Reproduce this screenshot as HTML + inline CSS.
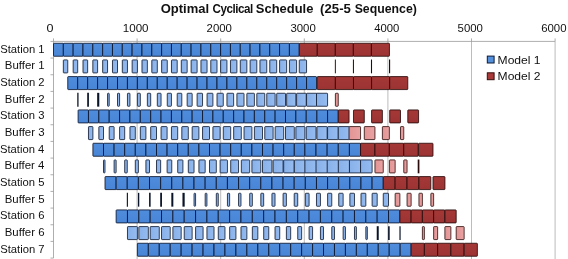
<!DOCTYPE html><html><head><meta charset="utf-8"><title>Optimal Cyclical Schedule</title>
<style>html,body{margin:0;padding:0;background:#fff}svg{display:block}text{font-family:"Liberation Sans",sans-serif;fill:#111}</style></head><body>
<svg width="568" height="259" viewBox="0 0 568 259">
<defs>
<linearGradient id="gb" x1="0" y1="0" x2="0" y2="1"><stop offset="0" stop-color="#4f8cdc"/><stop offset="1" stop-color="#4885d6"/></linearGradient>
<linearGradient id="gl" x1="0" y1="0" x2="1" y2="0"><stop offset="0" stop-color="#88b1ea"/><stop offset="1" stop-color="#96bcf0"/></linearGradient>
<linearGradient id="gr" x1="0" y1="0" x2="0" y2="1"><stop offset="0" stop-color="#a43837"/><stop offset="1" stop-color="#9c3333"/></linearGradient>
<linearGradient id="gp" x1="0" y1="0" x2="1" y2="0"><stop offset="0" stop-color="#e39494"/><stop offset="1" stop-color="#e9a2a2"/></linearGradient>
</defs>
<rect width="568" height="259" fill="#fff"/>
<line x1="137.10" y1="41.42" x2="137.10" y2="259" stroke="#b4b4b4" stroke-width="0.9"/>
<line x1="137.10" y1="38.42" x2="137.10" y2="41.42" stroke="#999" stroke-width="0.8"/>
<line x1="220.70" y1="41.42" x2="220.70" y2="259" stroke="#b4b4b4" stroke-width="0.9"/>
<line x1="220.70" y1="38.42" x2="220.70" y2="41.42" stroke="#999" stroke-width="0.8"/>
<line x1="304.30" y1="41.42" x2="304.30" y2="259" stroke="#b4b4b4" stroke-width="0.9"/>
<line x1="304.30" y1="38.42" x2="304.30" y2="41.42" stroke="#999" stroke-width="0.8"/>
<line x1="387.90" y1="41.42" x2="387.90" y2="259" stroke="#b4b4b4" stroke-width="0.9"/>
<line x1="387.90" y1="38.42" x2="387.90" y2="41.42" stroke="#999" stroke-width="0.8"/>
<line x1="471.50" y1="41.42" x2="471.50" y2="259" stroke="#b4b4b4" stroke-width="0.9"/>
<line x1="471.50" y1="38.42" x2="471.50" y2="41.42" stroke="#999" stroke-width="0.8"/>
<line x1="555.10" y1="41.42" x2="555.10" y2="259" stroke="#b4b4b4" stroke-width="0.9"/>
<line x1="555.10" y1="38.42" x2="555.10" y2="41.42" stroke="#999" stroke-width="0.8"/>
<line x1="53.50" y1="41.42" x2="555.10" y2="41.42" stroke="#999" stroke-width="0.8"/>
<line x1="53.50" y1="38.42" x2="53.50" y2="258.08" stroke="#999" stroke-width="0.8"/>
<line x1="50.50" y1="41.42" x2="53.50" y2="41.42" stroke="#999" stroke-width="0.8"/>
<line x1="50.50" y1="58.08" x2="53.50" y2="58.08" stroke="#999" stroke-width="0.8"/>
<line x1="50.50" y1="74.75" x2="53.50" y2="74.75" stroke="#999" stroke-width="0.8"/>
<line x1="50.50" y1="91.42" x2="53.50" y2="91.42" stroke="#999" stroke-width="0.8"/>
<line x1="50.50" y1="108.08" x2="53.50" y2="108.08" stroke="#999" stroke-width="0.8"/>
<line x1="50.50" y1="124.75" x2="53.50" y2="124.75" stroke="#999" stroke-width="0.8"/>
<line x1="50.50" y1="141.42" x2="53.50" y2="141.42" stroke="#999" stroke-width="0.8"/>
<line x1="50.50" y1="158.08" x2="53.50" y2="158.08" stroke="#999" stroke-width="0.8"/>
<line x1="50.50" y1="174.75" x2="53.50" y2="174.75" stroke="#999" stroke-width="0.8"/>
<line x1="50.50" y1="191.42" x2="53.50" y2="191.42" stroke="#999" stroke-width="0.8"/>
<line x1="50.50" y1="208.08" x2="53.50" y2="208.08" stroke="#999" stroke-width="0.8"/>
<line x1="50.50" y1="224.75" x2="53.50" y2="224.75" stroke="#999" stroke-width="0.8"/>
<line x1="50.50" y1="241.42" x2="53.50" y2="241.42" stroke="#999" stroke-width="0.8"/>
<line x1="50.50" y1="258.08" x2="53.50" y2="258.08" stroke="#999" stroke-width="0.8"/>
<rect x="53.50" y="43.25" width="9.83" height="13.00" rx="0.6" fill="url(#gb)" stroke="#060e22" stroke-width="0.8"/>
<rect x="63.33" y="43.25" width="9.83" height="13.00" rx="0.6" fill="url(#gb)" stroke="#060e22" stroke-width="0.8"/>
<rect x="73.16" y="43.25" width="9.83" height="13.00" rx="0.6" fill="url(#gb)" stroke="#060e22" stroke-width="0.8"/>
<rect x="82.99" y="43.25" width="9.83" height="13.00" rx="0.6" fill="url(#gb)" stroke="#060e22" stroke-width="0.8"/>
<rect x="92.82" y="43.25" width="9.83" height="13.00" rx="0.6" fill="url(#gb)" stroke="#060e22" stroke-width="0.8"/>
<rect x="102.65" y="43.25" width="9.83" height="13.00" rx="0.6" fill="url(#gb)" stroke="#060e22" stroke-width="0.8"/>
<rect x="112.48" y="43.25" width="9.83" height="13.00" rx="0.6" fill="url(#gb)" stroke="#060e22" stroke-width="0.8"/>
<rect x="122.31" y="43.25" width="9.83" height="13.00" rx="0.6" fill="url(#gb)" stroke="#060e22" stroke-width="0.8"/>
<rect x="132.14" y="43.25" width="9.83" height="13.00" rx="0.6" fill="url(#gb)" stroke="#060e22" stroke-width="0.8"/>
<rect x="141.97" y="43.25" width="9.83" height="13.00" rx="0.6" fill="url(#gb)" stroke="#060e22" stroke-width="0.8"/>
<rect x="151.80" y="43.25" width="9.83" height="13.00" rx="0.6" fill="url(#gb)" stroke="#060e22" stroke-width="0.8"/>
<rect x="161.63" y="43.25" width="9.83" height="13.00" rx="0.6" fill="url(#gb)" stroke="#060e22" stroke-width="0.8"/>
<rect x="171.46" y="43.25" width="9.83" height="13.00" rx="0.6" fill="url(#gb)" stroke="#060e22" stroke-width="0.8"/>
<rect x="181.29" y="43.25" width="9.83" height="13.00" rx="0.6" fill="url(#gb)" stroke="#060e22" stroke-width="0.8"/>
<rect x="191.12" y="43.25" width="9.83" height="13.00" rx="0.6" fill="url(#gb)" stroke="#060e22" stroke-width="0.8"/>
<rect x="200.95" y="43.25" width="9.83" height="13.00" rx="0.6" fill="url(#gb)" stroke="#060e22" stroke-width="0.8"/>
<rect x="210.78" y="43.25" width="9.83" height="13.00" rx="0.6" fill="url(#gb)" stroke="#060e22" stroke-width="0.8"/>
<rect x="220.61" y="43.25" width="9.83" height="13.00" rx="0.6" fill="url(#gb)" stroke="#060e22" stroke-width="0.8"/>
<rect x="230.44" y="43.25" width="9.83" height="13.00" rx="0.6" fill="url(#gb)" stroke="#060e22" stroke-width="0.8"/>
<rect x="240.27" y="43.25" width="9.83" height="13.00" rx="0.6" fill="url(#gb)" stroke="#060e22" stroke-width="0.8"/>
<rect x="250.10" y="43.25" width="9.83" height="13.00" rx="0.6" fill="url(#gb)" stroke="#060e22" stroke-width="0.8"/>
<rect x="259.93" y="43.25" width="9.83" height="13.00" rx="0.6" fill="url(#gb)" stroke="#060e22" stroke-width="0.8"/>
<rect x="269.76" y="43.25" width="9.83" height="13.00" rx="0.6" fill="url(#gb)" stroke="#060e22" stroke-width="0.8"/>
<rect x="279.59" y="43.25" width="9.83" height="13.00" rx="0.6" fill="url(#gb)" stroke="#060e22" stroke-width="0.8"/>
<rect x="289.42" y="43.25" width="9.83" height="13.00" rx="0.6" fill="url(#gb)" stroke="#060e22" stroke-width="0.8"/>
<rect x="299.25" y="43.25" width="18.04" height="13.00" rx="0.6" fill="url(#gr)" stroke="#200606" stroke-width="0.8"/>
<rect x="317.29" y="43.25" width="18.04" height="13.00" rx="0.6" fill="url(#gr)" stroke="#200606" stroke-width="0.8"/>
<rect x="335.33" y="43.25" width="18.04" height="13.00" rx="0.6" fill="url(#gr)" stroke="#200606" stroke-width="0.8"/>
<rect x="353.37" y="43.25" width="18.04" height="13.00" rx="0.6" fill="url(#gr)" stroke="#200606" stroke-width="0.8"/>
<rect x="371.41" y="43.25" width="18.04" height="13.00" rx="0.6" fill="url(#gr)" stroke="#200606" stroke-width="0.8"/>
<rect x="63.33" y="59.92" width="4.42" height="13.00" rx="0.6" fill="url(#gl)" stroke="#0a1428" stroke-width="0.8"/>
<rect x="73.16" y="59.92" width="4.54" height="13.00" rx="0.6" fill="url(#gl)" stroke="#0a1428" stroke-width="0.8"/>
<rect x="82.99" y="59.92" width="4.66" height="13.00" rx="0.6" fill="url(#gl)" stroke="#0a1428" stroke-width="0.8"/>
<rect x="92.82" y="59.92" width="4.78" height="13.00" rx="0.6" fill="url(#gl)" stroke="#0a1428" stroke-width="0.8"/>
<rect x="102.65" y="59.92" width="4.90" height="13.00" rx="0.6" fill="url(#gl)" stroke="#0a1428" stroke-width="0.8"/>
<rect x="112.48" y="59.92" width="5.02" height="13.00" rx="0.6" fill="url(#gl)" stroke="#0a1428" stroke-width="0.8"/>
<rect x="122.31" y="59.92" width="5.14" height="13.00" rx="0.6" fill="url(#gl)" stroke="#0a1428" stroke-width="0.8"/>
<rect x="132.14" y="59.92" width="5.26" height="13.00" rx="0.6" fill="url(#gl)" stroke="#0a1428" stroke-width="0.8"/>
<rect x="141.97" y="59.92" width="5.38" height="13.00" rx="0.6" fill="url(#gl)" stroke="#0a1428" stroke-width="0.8"/>
<rect x="151.80" y="59.92" width="5.50" height="13.00" rx="0.6" fill="url(#gl)" stroke="#0a1428" stroke-width="0.8"/>
<rect x="161.63" y="59.92" width="5.62" height="13.00" rx="0.6" fill="url(#gl)" stroke="#0a1428" stroke-width="0.8"/>
<rect x="171.46" y="59.92" width="5.74" height="13.00" rx="0.6" fill="url(#gl)" stroke="#0a1428" stroke-width="0.8"/>
<rect x="181.29" y="59.92" width="5.86" height="13.00" rx="0.6" fill="url(#gl)" stroke="#0a1428" stroke-width="0.8"/>
<rect x="191.12" y="59.92" width="5.98" height="13.00" rx="0.6" fill="url(#gl)" stroke="#0a1428" stroke-width="0.8"/>
<rect x="200.95" y="59.92" width="6.10" height="13.00" rx="0.6" fill="url(#gl)" stroke="#0a1428" stroke-width="0.8"/>
<rect x="210.78" y="59.92" width="6.22" height="13.00" rx="0.6" fill="url(#gl)" stroke="#0a1428" stroke-width="0.8"/>
<rect x="220.61" y="59.92" width="6.34" height="13.00" rx="0.6" fill="url(#gl)" stroke="#0a1428" stroke-width="0.8"/>
<rect x="230.44" y="59.92" width="6.46" height="13.00" rx="0.6" fill="url(#gl)" stroke="#0a1428" stroke-width="0.8"/>
<rect x="240.27" y="59.92" width="6.58" height="13.00" rx="0.6" fill="url(#gl)" stroke="#0a1428" stroke-width="0.8"/>
<rect x="250.10" y="59.92" width="6.70" height="13.00" rx="0.6" fill="url(#gl)" stroke="#0a1428" stroke-width="0.8"/>
<rect x="259.93" y="59.92" width="6.82" height="13.00" rx="0.6" fill="url(#gl)" stroke="#0a1428" stroke-width="0.8"/>
<rect x="269.76" y="59.92" width="6.94" height="13.00" rx="0.6" fill="url(#gl)" stroke="#0a1428" stroke-width="0.8"/>
<rect x="279.59" y="59.92" width="7.06" height="13.00" rx="0.6" fill="url(#gl)" stroke="#0a1428" stroke-width="0.8"/>
<rect x="289.42" y="59.92" width="7.18" height="13.00" rx="0.6" fill="url(#gl)" stroke="#0a1428" stroke-width="0.8"/>
<rect x="299.25" y="59.92" width="7.30" height="13.00" rx="0.6" fill="url(#gl)" stroke="#0a1428" stroke-width="0.8"/>
<line x1="335.36" y1="59.52" x2="335.36" y2="73.32" stroke="#2a0a0a" stroke-width="0.96"/>
<line x1="353.43" y1="59.52" x2="353.43" y2="73.32" stroke="#2a0a0a" stroke-width="1.02"/>
<line x1="371.50" y1="59.52" x2="371.50" y2="73.32" stroke="#2a0a0a" stroke-width="1.08"/>
<line x1="389.57" y1="59.52" x2="389.57" y2="73.32" stroke="#2a0a0a" stroke-width="1.14"/>
<rect x="67.75" y="76.58" width="9.95" height="13.00" rx="0.6" fill="url(#gb)" stroke="#060e22" stroke-width="0.8"/>
<rect x="77.70" y="76.58" width="9.95" height="13.00" rx="0.6" fill="url(#gb)" stroke="#060e22" stroke-width="0.8"/>
<rect x="87.65" y="76.58" width="9.95" height="13.00" rx="0.6" fill="url(#gb)" stroke="#060e22" stroke-width="0.8"/>
<rect x="97.60" y="76.58" width="9.95" height="13.00" rx="0.6" fill="url(#gb)" stroke="#060e22" stroke-width="0.8"/>
<rect x="107.55" y="76.58" width="9.95" height="13.00" rx="0.6" fill="url(#gb)" stroke="#060e22" stroke-width="0.8"/>
<rect x="117.50" y="76.58" width="9.95" height="13.00" rx="0.6" fill="url(#gb)" stroke="#060e22" stroke-width="0.8"/>
<rect x="127.45" y="76.58" width="9.95" height="13.00" rx="0.6" fill="url(#gb)" stroke="#060e22" stroke-width="0.8"/>
<rect x="137.40" y="76.58" width="9.95" height="13.00" rx="0.6" fill="url(#gb)" stroke="#060e22" stroke-width="0.8"/>
<rect x="147.35" y="76.58" width="9.95" height="13.00" rx="0.6" fill="url(#gb)" stroke="#060e22" stroke-width="0.8"/>
<rect x="157.30" y="76.58" width="9.95" height="13.00" rx="0.6" fill="url(#gb)" stroke="#060e22" stroke-width="0.8"/>
<rect x="167.25" y="76.58" width="9.95" height="13.00" rx="0.6" fill="url(#gb)" stroke="#060e22" stroke-width="0.8"/>
<rect x="177.20" y="76.58" width="9.95" height="13.00" rx="0.6" fill="url(#gb)" stroke="#060e22" stroke-width="0.8"/>
<rect x="187.15" y="76.58" width="9.95" height="13.00" rx="0.6" fill="url(#gb)" stroke="#060e22" stroke-width="0.8"/>
<rect x="197.10" y="76.58" width="9.95" height="13.00" rx="0.6" fill="url(#gb)" stroke="#060e22" stroke-width="0.8"/>
<rect x="207.05" y="76.58" width="9.95" height="13.00" rx="0.6" fill="url(#gb)" stroke="#060e22" stroke-width="0.8"/>
<rect x="217.00" y="76.58" width="9.95" height="13.00" rx="0.6" fill="url(#gb)" stroke="#060e22" stroke-width="0.8"/>
<rect x="226.95" y="76.58" width="9.95" height="13.00" rx="0.6" fill="url(#gb)" stroke="#060e22" stroke-width="0.8"/>
<rect x="236.90" y="76.58" width="9.95" height="13.00" rx="0.6" fill="url(#gb)" stroke="#060e22" stroke-width="0.8"/>
<rect x="246.85" y="76.58" width="9.95" height="13.00" rx="0.6" fill="url(#gb)" stroke="#060e22" stroke-width="0.8"/>
<rect x="256.80" y="76.58" width="9.95" height="13.00" rx="0.6" fill="url(#gb)" stroke="#060e22" stroke-width="0.8"/>
<rect x="266.75" y="76.58" width="9.95" height="13.00" rx="0.6" fill="url(#gb)" stroke="#060e22" stroke-width="0.8"/>
<rect x="276.70" y="76.58" width="9.95" height="13.00" rx="0.6" fill="url(#gb)" stroke="#060e22" stroke-width="0.8"/>
<rect x="286.65" y="76.58" width="9.95" height="13.00" rx="0.6" fill="url(#gb)" stroke="#060e22" stroke-width="0.8"/>
<rect x="296.60" y="76.58" width="9.95" height="13.00" rx="0.6" fill="url(#gb)" stroke="#060e22" stroke-width="0.8"/>
<rect x="306.55" y="76.58" width="9.95" height="13.00" rx="0.6" fill="url(#gb)" stroke="#060e22" stroke-width="0.8"/>
<rect x="317.29" y="76.58" width="18.10" height="13.00" rx="0.6" fill="url(#gr)" stroke="#200606" stroke-width="0.8"/>
<rect x="335.39" y="76.58" width="18.10" height="13.00" rx="0.6" fill="url(#gr)" stroke="#200606" stroke-width="0.8"/>
<rect x="353.49" y="76.58" width="18.10" height="13.00" rx="0.6" fill="url(#gr)" stroke="#200606" stroke-width="0.8"/>
<rect x="371.59" y="76.58" width="18.10" height="13.00" rx="0.6" fill="url(#gr)" stroke="#200606" stroke-width="0.8"/>
<rect x="389.69" y="76.58" width="18.10" height="13.00" rx="0.6" fill="url(#gr)" stroke="#200606" stroke-width="0.8"/>
<line x1="77.90" y1="92.85" x2="77.90" y2="106.65" stroke="#0a1428" stroke-width="1.30"/>
<line x1="88.06" y1="92.85" x2="88.06" y2="106.65" stroke="#0a1428" stroke-width="1.72"/>
<line x1="98.22" y1="92.85" x2="98.22" y2="106.65" stroke="#0a1428" stroke-width="2.14"/>
<rect x="107.55" y="93.25" width="1.66" height="13.00" rx="0.6" fill="url(#gl)" stroke="#0a1428" stroke-width="0.8"/>
<rect x="117.50" y="93.25" width="2.08" height="13.00" rx="0.6" fill="url(#gl)" stroke="#0a1428" stroke-width="0.8"/>
<rect x="127.45" y="93.25" width="2.50" height="13.00" rx="0.6" fill="url(#gl)" stroke="#0a1428" stroke-width="0.8"/>
<rect x="137.40" y="93.25" width="2.92" height="13.00" rx="0.6" fill="url(#gl)" stroke="#0a1428" stroke-width="0.8"/>
<rect x="147.35" y="93.25" width="3.34" height="13.00" rx="0.6" fill="url(#gl)" stroke="#0a1428" stroke-width="0.8"/>
<rect x="157.30" y="93.25" width="3.76" height="13.00" rx="0.6" fill="url(#gl)" stroke="#0a1428" stroke-width="0.8"/>
<rect x="167.25" y="93.25" width="4.18" height="13.00" rx="0.6" fill="url(#gl)" stroke="#0a1428" stroke-width="0.8"/>
<rect x="177.20" y="93.25" width="4.60" height="13.00" rx="0.6" fill="url(#gl)" stroke="#0a1428" stroke-width="0.8"/>
<rect x="187.15" y="93.25" width="5.02" height="13.00" rx="0.6" fill="url(#gl)" stroke="#0a1428" stroke-width="0.8"/>
<rect x="197.10" y="93.25" width="5.44" height="13.00" rx="0.6" fill="url(#gl)" stroke="#0a1428" stroke-width="0.8"/>
<rect x="207.05" y="93.25" width="5.86" height="13.00" rx="0.6" fill="url(#gl)" stroke="#0a1428" stroke-width="0.8"/>
<rect x="217.00" y="93.25" width="6.28" height="13.00" rx="0.6" fill="url(#gl)" stroke="#0a1428" stroke-width="0.8"/>
<rect x="226.95" y="93.25" width="6.70" height="13.00" rx="0.6" fill="url(#gl)" stroke="#0a1428" stroke-width="0.8"/>
<rect x="236.90" y="93.25" width="7.12" height="13.00" rx="0.6" fill="url(#gl)" stroke="#0a1428" stroke-width="0.8"/>
<rect x="246.85" y="93.25" width="7.54" height="13.00" rx="0.6" fill="url(#gl)" stroke="#0a1428" stroke-width="0.8"/>
<rect x="256.80" y="93.25" width="7.96" height="13.00" rx="0.6" fill="url(#gl)" stroke="#0a1428" stroke-width="0.8"/>
<rect x="266.75" y="93.25" width="8.38" height="13.00" rx="0.6" fill="url(#gl)" stroke="#0a1428" stroke-width="0.8"/>
<rect x="276.70" y="93.25" width="8.80" height="13.00" rx="0.6" fill="url(#gl)" stroke="#0a1428" stroke-width="0.8"/>
<rect x="286.65" y="93.25" width="9.22" height="13.00" rx="0.6" fill="url(#gl)" stroke="#0a1428" stroke-width="0.8"/>
<rect x="296.60" y="93.25" width="9.64" height="13.00" rx="0.6" fill="url(#gl)" stroke="#0a1428" stroke-width="0.8"/>
<rect x="306.55" y="93.25" width="10.36" height="13.00" rx="0.6" fill="url(#gl)" stroke="#0a1428" stroke-width="0.8"/>
<rect x="316.50" y="93.25" width="11.08" height="13.00" rx="0.6" fill="url(#gl)" stroke="#0a1428" stroke-width="0.8"/>
<rect x="335.39" y="93.25" width="2.86" height="13.00" rx="0.6" fill="url(#gp)" stroke="#2a0a0a" stroke-width="0.8"/>
<rect x="78.10" y="109.92" width="10.37" height="13.00" rx="0.6" fill="url(#gb)" stroke="#060e22" stroke-width="0.8"/>
<rect x="88.47" y="109.92" width="10.37" height="13.00" rx="0.6" fill="url(#gb)" stroke="#060e22" stroke-width="0.8"/>
<rect x="98.84" y="109.92" width="10.37" height="13.00" rx="0.6" fill="url(#gb)" stroke="#060e22" stroke-width="0.8"/>
<rect x="109.21" y="109.92" width="10.37" height="13.00" rx="0.6" fill="url(#gb)" stroke="#060e22" stroke-width="0.8"/>
<rect x="119.58" y="109.92" width="10.37" height="13.00" rx="0.6" fill="url(#gb)" stroke="#060e22" stroke-width="0.8"/>
<rect x="129.95" y="109.92" width="10.37" height="13.00" rx="0.6" fill="url(#gb)" stroke="#060e22" stroke-width="0.8"/>
<rect x="140.32" y="109.92" width="10.37" height="13.00" rx="0.6" fill="url(#gb)" stroke="#060e22" stroke-width="0.8"/>
<rect x="150.69" y="109.92" width="10.37" height="13.00" rx="0.6" fill="url(#gb)" stroke="#060e22" stroke-width="0.8"/>
<rect x="161.06" y="109.92" width="10.37" height="13.00" rx="0.6" fill="url(#gb)" stroke="#060e22" stroke-width="0.8"/>
<rect x="171.43" y="109.92" width="10.37" height="13.00" rx="0.6" fill="url(#gb)" stroke="#060e22" stroke-width="0.8"/>
<rect x="181.80" y="109.92" width="10.37" height="13.00" rx="0.6" fill="url(#gb)" stroke="#060e22" stroke-width="0.8"/>
<rect x="192.17" y="109.92" width="10.37" height="13.00" rx="0.6" fill="url(#gb)" stroke="#060e22" stroke-width="0.8"/>
<rect x="202.54" y="109.92" width="10.37" height="13.00" rx="0.6" fill="url(#gb)" stroke="#060e22" stroke-width="0.8"/>
<rect x="212.91" y="109.92" width="10.37" height="13.00" rx="0.6" fill="url(#gb)" stroke="#060e22" stroke-width="0.8"/>
<rect x="223.28" y="109.92" width="10.37" height="13.00" rx="0.6" fill="url(#gb)" stroke="#060e22" stroke-width="0.8"/>
<rect x="233.65" y="109.92" width="10.37" height="13.00" rx="0.6" fill="url(#gb)" stroke="#060e22" stroke-width="0.8"/>
<rect x="244.02" y="109.92" width="10.37" height="13.00" rx="0.6" fill="url(#gb)" stroke="#060e22" stroke-width="0.8"/>
<rect x="254.39" y="109.92" width="10.37" height="13.00" rx="0.6" fill="url(#gb)" stroke="#060e22" stroke-width="0.8"/>
<rect x="264.76" y="109.92" width="10.37" height="13.00" rx="0.6" fill="url(#gb)" stroke="#060e22" stroke-width="0.8"/>
<rect x="275.13" y="109.92" width="10.37" height="13.00" rx="0.6" fill="url(#gb)" stroke="#060e22" stroke-width="0.8"/>
<rect x="285.50" y="109.92" width="10.37" height="13.00" rx="0.6" fill="url(#gb)" stroke="#060e22" stroke-width="0.8"/>
<rect x="295.87" y="109.92" width="10.37" height="13.00" rx="0.6" fill="url(#gb)" stroke="#060e22" stroke-width="0.8"/>
<rect x="306.24" y="109.92" width="10.67" height="13.00" rx="0.6" fill="url(#gb)" stroke="#060e22" stroke-width="0.8"/>
<rect x="316.91" y="109.92" width="10.67" height="13.00" rx="0.6" fill="url(#gb)" stroke="#060e22" stroke-width="0.8"/>
<rect x="327.58" y="109.92" width="10.67" height="13.00" rx="0.6" fill="url(#gb)" stroke="#060e22" stroke-width="0.8"/>
<rect x="338.25" y="109.92" width="10.80" height="13.00" rx="0.6" fill="url(#gr)" stroke="#200606" stroke-width="0.8"/>
<rect x="353.49" y="109.92" width="10.80" height="13.00" rx="0.6" fill="url(#gr)" stroke="#200606" stroke-width="0.8"/>
<rect x="371.59" y="109.92" width="10.80" height="13.00" rx="0.6" fill="url(#gr)" stroke="#200606" stroke-width="0.8"/>
<rect x="389.69" y="109.92" width="10.80" height="13.00" rx="0.6" fill="url(#gr)" stroke="#200606" stroke-width="0.8"/>
<rect x="407.79" y="109.92" width="10.80" height="13.00" rx="0.6" fill="url(#gr)" stroke="#200606" stroke-width="0.8"/>
<rect x="88.47" y="126.58" width="4.43" height="13.00" rx="0.6" fill="url(#gl)" stroke="#0a1428" stroke-width="0.8"/>
<rect x="98.84" y="126.58" width="4.66" height="13.00" rx="0.6" fill="url(#gl)" stroke="#0a1428" stroke-width="0.8"/>
<rect x="109.21" y="126.58" width="4.89" height="13.00" rx="0.6" fill="url(#gl)" stroke="#0a1428" stroke-width="0.8"/>
<rect x="119.58" y="126.58" width="5.12" height="13.00" rx="0.6" fill="url(#gl)" stroke="#0a1428" stroke-width="0.8"/>
<rect x="129.95" y="126.58" width="5.35" height="13.00" rx="0.6" fill="url(#gl)" stroke="#0a1428" stroke-width="0.8"/>
<rect x="140.32" y="126.58" width="5.58" height="13.00" rx="0.6" fill="url(#gl)" stroke="#0a1428" stroke-width="0.8"/>
<rect x="150.69" y="126.58" width="5.81" height="13.00" rx="0.6" fill="url(#gl)" stroke="#0a1428" stroke-width="0.8"/>
<rect x="161.06" y="126.58" width="6.04" height="13.00" rx="0.6" fill="url(#gl)" stroke="#0a1428" stroke-width="0.8"/>
<rect x="171.43" y="126.58" width="6.27" height="13.00" rx="0.6" fill="url(#gl)" stroke="#0a1428" stroke-width="0.8"/>
<rect x="181.80" y="126.58" width="6.50" height="13.00" rx="0.6" fill="url(#gl)" stroke="#0a1428" stroke-width="0.8"/>
<rect x="192.17" y="126.58" width="6.73" height="13.00" rx="0.6" fill="url(#gl)" stroke="#0a1428" stroke-width="0.8"/>
<rect x="202.54" y="126.58" width="6.96" height="13.00" rx="0.6" fill="url(#gl)" stroke="#0a1428" stroke-width="0.8"/>
<rect x="212.91" y="126.58" width="7.19" height="13.00" rx="0.6" fill="url(#gl)" stroke="#0a1428" stroke-width="0.8"/>
<rect x="223.28" y="126.58" width="7.42" height="13.00" rx="0.6" fill="url(#gl)" stroke="#0a1428" stroke-width="0.8"/>
<rect x="233.65" y="126.58" width="7.65" height="13.00" rx="0.6" fill="url(#gl)" stroke="#0a1428" stroke-width="0.8"/>
<rect x="244.02" y="126.58" width="7.88" height="13.00" rx="0.6" fill="url(#gl)" stroke="#0a1428" stroke-width="0.8"/>
<rect x="254.39" y="126.58" width="8.11" height="13.00" rx="0.6" fill="url(#gl)" stroke="#0a1428" stroke-width="0.8"/>
<rect x="264.76" y="126.58" width="8.34" height="13.00" rx="0.6" fill="url(#gl)" stroke="#0a1428" stroke-width="0.8"/>
<rect x="275.13" y="126.58" width="8.57" height="13.00" rx="0.6" fill="url(#gl)" stroke="#0a1428" stroke-width="0.8"/>
<rect x="285.50" y="126.58" width="8.80" height="13.00" rx="0.6" fill="url(#gl)" stroke="#0a1428" stroke-width="0.8"/>
<rect x="295.87" y="126.58" width="9.03" height="13.00" rx="0.6" fill="url(#gl)" stroke="#0a1428" stroke-width="0.8"/>
<rect x="306.24" y="126.58" width="9.79" height="13.00" rx="0.6" fill="url(#gl)" stroke="#0a1428" stroke-width="0.8"/>
<rect x="316.91" y="126.58" width="10.25" height="13.00" rx="0.6" fill="url(#gl)" stroke="#0a1428" stroke-width="0.8"/>
<rect x="327.58" y="126.58" width="10.71" height="13.00" rx="0.6" fill="url(#gl)" stroke="#0a1428" stroke-width="0.8"/>
<rect x="338.25" y="126.58" width="11.17" height="13.00" rx="0.6" fill="url(#gl)" stroke="#0a1428" stroke-width="0.8"/>
<rect x="349.05" y="126.58" width="11.50" height="13.00" rx="0.6" fill="url(#gp)" stroke="#2a0a0a" stroke-width="0.8"/>
<rect x="364.29" y="126.58" width="10.66" height="13.00" rx="0.6" fill="url(#gp)" stroke="#2a0a0a" stroke-width="0.8"/>
<rect x="382.39" y="126.58" width="6.96" height="13.00" rx="0.6" fill="url(#gp)" stroke="#2a0a0a" stroke-width="0.8"/>
<rect x="400.49" y="126.58" width="3.26" height="13.00" rx="0.6" fill="url(#gp)" stroke="#2a0a0a" stroke-width="0.8"/>
<rect x="92.90" y="143.25" width="10.60" height="13.00" rx="0.6" fill="url(#gb)" stroke="#060e22" stroke-width="0.8"/>
<rect x="103.50" y="143.25" width="10.60" height="13.00" rx="0.6" fill="url(#gb)" stroke="#060e22" stroke-width="0.8"/>
<rect x="114.10" y="143.25" width="10.60" height="13.00" rx="0.6" fill="url(#gb)" stroke="#060e22" stroke-width="0.8"/>
<rect x="124.70" y="143.25" width="10.60" height="13.00" rx="0.6" fill="url(#gb)" stroke="#060e22" stroke-width="0.8"/>
<rect x="135.30" y="143.25" width="10.60" height="13.00" rx="0.6" fill="url(#gb)" stroke="#060e22" stroke-width="0.8"/>
<rect x="145.90" y="143.25" width="10.60" height="13.00" rx="0.6" fill="url(#gb)" stroke="#060e22" stroke-width="0.8"/>
<rect x="156.50" y="143.25" width="10.60" height="13.00" rx="0.6" fill="url(#gb)" stroke="#060e22" stroke-width="0.8"/>
<rect x="167.10" y="143.25" width="10.60" height="13.00" rx="0.6" fill="url(#gb)" stroke="#060e22" stroke-width="0.8"/>
<rect x="177.70" y="143.25" width="10.60" height="13.00" rx="0.6" fill="url(#gb)" stroke="#060e22" stroke-width="0.8"/>
<rect x="188.30" y="143.25" width="10.60" height="13.00" rx="0.6" fill="url(#gb)" stroke="#060e22" stroke-width="0.8"/>
<rect x="198.90" y="143.25" width="10.60" height="13.00" rx="0.6" fill="url(#gb)" stroke="#060e22" stroke-width="0.8"/>
<rect x="209.50" y="143.25" width="10.60" height="13.00" rx="0.6" fill="url(#gb)" stroke="#060e22" stroke-width="0.8"/>
<rect x="220.10" y="143.25" width="10.60" height="13.00" rx="0.6" fill="url(#gb)" stroke="#060e22" stroke-width="0.8"/>
<rect x="230.70" y="143.25" width="10.60" height="13.00" rx="0.6" fill="url(#gb)" stroke="#060e22" stroke-width="0.8"/>
<rect x="241.30" y="143.25" width="10.60" height="13.00" rx="0.6" fill="url(#gb)" stroke="#060e22" stroke-width="0.8"/>
<rect x="251.90" y="143.25" width="10.60" height="13.00" rx="0.6" fill="url(#gb)" stroke="#060e22" stroke-width="0.8"/>
<rect x="262.50" y="143.25" width="10.60" height="13.00" rx="0.6" fill="url(#gb)" stroke="#060e22" stroke-width="0.8"/>
<rect x="273.10" y="143.25" width="10.60" height="13.00" rx="0.6" fill="url(#gb)" stroke="#060e22" stroke-width="0.8"/>
<rect x="283.70" y="143.25" width="10.60" height="13.00" rx="0.6" fill="url(#gb)" stroke="#060e22" stroke-width="0.8"/>
<rect x="294.30" y="143.25" width="10.60" height="13.00" rx="0.6" fill="url(#gb)" stroke="#060e22" stroke-width="0.8"/>
<rect x="304.90" y="143.25" width="11.13" height="13.00" rx="0.6" fill="url(#gb)" stroke="#060e22" stroke-width="0.8"/>
<rect x="316.03" y="143.25" width="11.13" height="13.00" rx="0.6" fill="url(#gb)" stroke="#060e22" stroke-width="0.8"/>
<rect x="327.16" y="143.25" width="11.13" height="13.00" rx="0.6" fill="url(#gb)" stroke="#060e22" stroke-width="0.8"/>
<rect x="338.29" y="143.25" width="11.13" height="13.00" rx="0.6" fill="url(#gb)" stroke="#060e22" stroke-width="0.8"/>
<rect x="349.42" y="143.25" width="11.13" height="13.00" rx="0.6" fill="url(#gb)" stroke="#060e22" stroke-width="0.8"/>
<rect x="360.55" y="143.25" width="14.40" height="13.00" rx="0.6" fill="url(#gr)" stroke="#200606" stroke-width="0.8"/>
<rect x="374.95" y="143.25" width="14.40" height="13.00" rx="0.6" fill="url(#gr)" stroke="#200606" stroke-width="0.8"/>
<rect x="389.35" y="143.25" width="14.40" height="13.00" rx="0.6" fill="url(#gr)" stroke="#200606" stroke-width="0.8"/>
<rect x="403.75" y="143.25" width="14.40" height="13.00" rx="0.6" fill="url(#gr)" stroke="#200606" stroke-width="0.8"/>
<rect x="418.59" y="143.25" width="14.40" height="13.00" rx="0.6" fill="url(#gr)" stroke="#200606" stroke-width="0.8"/>
<rect x="103.50" y="159.92" width="1.50" height="13.00" rx="0.6" fill="url(#gl)" stroke="#0a1428" stroke-width="0.8"/>
<rect x="114.10" y="159.92" width="2.03" height="13.00" rx="0.6" fill="url(#gl)" stroke="#0a1428" stroke-width="0.8"/>
<rect x="124.70" y="159.92" width="2.56" height="13.00" rx="0.6" fill="url(#gl)" stroke="#0a1428" stroke-width="0.8"/>
<rect x="135.30" y="159.92" width="3.09" height="13.00" rx="0.6" fill="url(#gl)" stroke="#0a1428" stroke-width="0.8"/>
<rect x="145.90" y="159.92" width="3.62" height="13.00" rx="0.6" fill="url(#gl)" stroke="#0a1428" stroke-width="0.8"/>
<rect x="156.50" y="159.92" width="4.15" height="13.00" rx="0.6" fill="url(#gl)" stroke="#0a1428" stroke-width="0.8"/>
<rect x="167.10" y="159.92" width="4.68" height="13.00" rx="0.6" fill="url(#gl)" stroke="#0a1428" stroke-width="0.8"/>
<rect x="177.70" y="159.92" width="5.21" height="13.00" rx="0.6" fill="url(#gl)" stroke="#0a1428" stroke-width="0.8"/>
<rect x="188.30" y="159.92" width="5.74" height="13.00" rx="0.6" fill="url(#gl)" stroke="#0a1428" stroke-width="0.8"/>
<rect x="198.90" y="159.92" width="6.27" height="13.00" rx="0.6" fill="url(#gl)" stroke="#0a1428" stroke-width="0.8"/>
<rect x="209.50" y="159.92" width="6.80" height="13.00" rx="0.6" fill="url(#gl)" stroke="#0a1428" stroke-width="0.8"/>
<rect x="220.10" y="159.92" width="7.33" height="13.00" rx="0.6" fill="url(#gl)" stroke="#0a1428" stroke-width="0.8"/>
<rect x="230.70" y="159.92" width="7.86" height="13.00" rx="0.6" fill="url(#gl)" stroke="#0a1428" stroke-width="0.8"/>
<rect x="241.30" y="159.92" width="8.39" height="13.00" rx="0.6" fill="url(#gl)" stroke="#0a1428" stroke-width="0.8"/>
<rect x="251.90" y="159.92" width="8.92" height="13.00" rx="0.6" fill="url(#gl)" stroke="#0a1428" stroke-width="0.8"/>
<rect x="262.50" y="159.92" width="9.45" height="13.00" rx="0.6" fill="url(#gl)" stroke="#0a1428" stroke-width="0.8"/>
<rect x="273.10" y="159.92" width="9.98" height="13.00" rx="0.6" fill="url(#gl)" stroke="#0a1428" stroke-width="0.8"/>
<rect x="283.70" y="159.92" width="10.51" height="13.00" rx="0.6" fill="url(#gl)" stroke="#0a1428" stroke-width="0.8"/>
<rect x="294.30" y="159.92" width="11.04" height="13.00" rx="0.6" fill="url(#gl)" stroke="#0a1428" stroke-width="0.8"/>
<rect x="304.90" y="159.92" width="11.57" height="13.00" rx="0.6" fill="url(#gl)" stroke="#0a1428" stroke-width="0.8"/>
<rect x="316.03" y="159.92" width="11.57" height="13.00" rx="0.6" fill="url(#gl)" stroke="#0a1428" stroke-width="0.8"/>
<rect x="327.16" y="159.92" width="11.57" height="13.00" rx="0.6" fill="url(#gl)" stroke="#0a1428" stroke-width="0.8"/>
<rect x="338.29" y="159.92" width="11.57" height="13.00" rx="0.6" fill="url(#gl)" stroke="#0a1428" stroke-width="0.8"/>
<rect x="349.42" y="159.92" width="11.57" height="13.00" rx="0.6" fill="url(#gl)" stroke="#0a1428" stroke-width="0.8"/>
<rect x="360.55" y="159.92" width="11.57" height="13.00" rx="0.6" fill="url(#gl)" stroke="#0a1428" stroke-width="0.8"/>
<rect x="374.95" y="159.92" width="8.30" height="13.00" rx="0.6" fill="url(#gp)" stroke="#2a0a0a" stroke-width="0.8"/>
<rect x="389.35" y="159.92" width="5.80" height="13.00" rx="0.6" fill="url(#gp)" stroke="#2a0a0a" stroke-width="0.8"/>
<rect x="403.75" y="159.92" width="3.30" height="13.00" rx="0.6" fill="url(#gp)" stroke="#2a0a0a" stroke-width="0.8"/>
<line x1="418.55" y1="159.52" x2="418.55" y2="173.32" stroke="#2a0a0a" stroke-width="1.70"/>
<rect x="105.00" y="176.58" width="11.13" height="13.00" rx="0.6" fill="url(#gb)" stroke="#060e22" stroke-width="0.8"/>
<rect x="116.13" y="176.58" width="11.13" height="13.00" rx="0.6" fill="url(#gb)" stroke="#060e22" stroke-width="0.8"/>
<rect x="127.26" y="176.58" width="11.13" height="13.00" rx="0.6" fill="url(#gb)" stroke="#060e22" stroke-width="0.8"/>
<rect x="138.39" y="176.58" width="11.13" height="13.00" rx="0.6" fill="url(#gb)" stroke="#060e22" stroke-width="0.8"/>
<rect x="149.52" y="176.58" width="11.13" height="13.00" rx="0.6" fill="url(#gb)" stroke="#060e22" stroke-width="0.8"/>
<rect x="160.65" y="176.58" width="11.13" height="13.00" rx="0.6" fill="url(#gb)" stroke="#060e22" stroke-width="0.8"/>
<rect x="171.78" y="176.58" width="11.13" height="13.00" rx="0.6" fill="url(#gb)" stroke="#060e22" stroke-width="0.8"/>
<rect x="182.91" y="176.58" width="11.13" height="13.00" rx="0.6" fill="url(#gb)" stroke="#060e22" stroke-width="0.8"/>
<rect x="194.04" y="176.58" width="11.13" height="13.00" rx="0.6" fill="url(#gb)" stroke="#060e22" stroke-width="0.8"/>
<rect x="205.17" y="176.58" width="11.13" height="13.00" rx="0.6" fill="url(#gb)" stroke="#060e22" stroke-width="0.8"/>
<rect x="216.30" y="176.58" width="11.13" height="13.00" rx="0.6" fill="url(#gb)" stroke="#060e22" stroke-width="0.8"/>
<rect x="227.43" y="176.58" width="11.13" height="13.00" rx="0.6" fill="url(#gb)" stroke="#060e22" stroke-width="0.8"/>
<rect x="238.56" y="176.58" width="11.13" height="13.00" rx="0.6" fill="url(#gb)" stroke="#060e22" stroke-width="0.8"/>
<rect x="249.69" y="176.58" width="11.13" height="13.00" rx="0.6" fill="url(#gb)" stroke="#060e22" stroke-width="0.8"/>
<rect x="260.82" y="176.58" width="11.13" height="13.00" rx="0.6" fill="url(#gb)" stroke="#060e22" stroke-width="0.8"/>
<rect x="271.95" y="176.58" width="11.13" height="13.00" rx="0.6" fill="url(#gb)" stroke="#060e22" stroke-width="0.8"/>
<rect x="283.08" y="176.58" width="11.13" height="13.00" rx="0.6" fill="url(#gb)" stroke="#060e22" stroke-width="0.8"/>
<rect x="294.21" y="176.58" width="11.13" height="13.00" rx="0.6" fill="url(#gb)" stroke="#060e22" stroke-width="0.8"/>
<rect x="305.34" y="176.58" width="11.13" height="13.00" rx="0.6" fill="url(#gb)" stroke="#060e22" stroke-width="0.8"/>
<rect x="316.47" y="176.58" width="11.13" height="13.00" rx="0.6" fill="url(#gb)" stroke="#060e22" stroke-width="0.8"/>
<rect x="327.60" y="176.58" width="11.13" height="13.00" rx="0.6" fill="url(#gb)" stroke="#060e22" stroke-width="0.8"/>
<rect x="338.73" y="176.58" width="11.13" height="13.00" rx="0.6" fill="url(#gb)" stroke="#060e22" stroke-width="0.8"/>
<rect x="349.86" y="176.58" width="11.13" height="13.00" rx="0.6" fill="url(#gb)" stroke="#060e22" stroke-width="0.8"/>
<rect x="360.99" y="176.58" width="11.13" height="13.00" rx="0.6" fill="url(#gb)" stroke="#060e22" stroke-width="0.8"/>
<rect x="372.12" y="176.58" width="11.13" height="13.00" rx="0.6" fill="url(#gb)" stroke="#060e22" stroke-width="0.8"/>
<rect x="383.25" y="176.58" width="11.90" height="13.00" rx="0.6" fill="url(#gr)" stroke="#200606" stroke-width="0.8"/>
<rect x="395.15" y="176.58" width="11.90" height="13.00" rx="0.6" fill="url(#gr)" stroke="#200606" stroke-width="0.8"/>
<rect x="407.05" y="176.58" width="11.90" height="13.00" rx="0.6" fill="url(#gr)" stroke="#200606" stroke-width="0.8"/>
<rect x="418.95" y="176.58" width="11.90" height="13.00" rx="0.6" fill="url(#gr)" stroke="#200606" stroke-width="0.8"/>
<rect x="432.99" y="176.58" width="11.95" height="13.00" rx="0.6" fill="url(#gr)" stroke="#200606" stroke-width="0.8"/>
<line x1="127.37" y1="192.85" x2="127.37" y2="206.65" stroke="#0a1428" stroke-width="1.12"/>
<line x1="138.61" y1="192.85" x2="138.61" y2="206.65" stroke="#0a1428" stroke-width="1.34"/>
<line x1="149.85" y1="192.85" x2="149.85" y2="206.65" stroke="#0a1428" stroke-width="1.56"/>
<line x1="161.09" y1="192.85" x2="161.09" y2="206.65" stroke="#0a1428" stroke-width="1.78"/>
<line x1="172.33" y1="192.85" x2="172.33" y2="206.65" stroke="#0a1428" stroke-width="2.00"/>
<line x1="183.57" y1="192.85" x2="183.57" y2="206.65" stroke="#0a1428" stroke-width="2.22"/>
<rect x="194.04" y="193.25" width="1.54" height="13.00" rx="0.6" fill="url(#gl)" stroke="#0a1428" stroke-width="0.8"/>
<rect x="205.17" y="193.25" width="1.76" height="13.00" rx="0.6" fill="url(#gl)" stroke="#0a1428" stroke-width="0.8"/>
<rect x="216.30" y="193.25" width="1.98" height="13.00" rx="0.6" fill="url(#gl)" stroke="#0a1428" stroke-width="0.8"/>
<rect x="227.43" y="193.25" width="2.20" height="13.00" rx="0.6" fill="url(#gl)" stroke="#0a1428" stroke-width="0.8"/>
<rect x="238.56" y="193.25" width="2.42" height="13.00" rx="0.6" fill="url(#gl)" stroke="#0a1428" stroke-width="0.8"/>
<rect x="249.69" y="193.25" width="2.64" height="13.00" rx="0.6" fill="url(#gl)" stroke="#0a1428" stroke-width="0.8"/>
<rect x="260.82" y="193.25" width="2.86" height="13.00" rx="0.6" fill="url(#gl)" stroke="#0a1428" stroke-width="0.8"/>
<rect x="271.95" y="193.25" width="3.08" height="13.00" rx="0.6" fill="url(#gl)" stroke="#0a1428" stroke-width="0.8"/>
<rect x="283.08" y="193.25" width="3.30" height="13.00" rx="0.6" fill="url(#gl)" stroke="#0a1428" stroke-width="0.8"/>
<rect x="294.21" y="193.25" width="3.52" height="13.00" rx="0.6" fill="url(#gl)" stroke="#0a1428" stroke-width="0.8"/>
<rect x="305.34" y="193.25" width="3.74" height="13.00" rx="0.6" fill="url(#gl)" stroke="#0a1428" stroke-width="0.8"/>
<rect x="316.47" y="193.25" width="3.96" height="13.00" rx="0.6" fill="url(#gl)" stroke="#0a1428" stroke-width="0.8"/>
<rect x="327.60" y="193.25" width="4.18" height="13.00" rx="0.6" fill="url(#gl)" stroke="#0a1428" stroke-width="0.8"/>
<rect x="338.73" y="193.25" width="4.40" height="13.00" rx="0.6" fill="url(#gl)" stroke="#0a1428" stroke-width="0.8"/>
<rect x="349.86" y="193.25" width="4.62" height="13.00" rx="0.6" fill="url(#gl)" stroke="#0a1428" stroke-width="0.8"/>
<rect x="360.99" y="193.25" width="4.84" height="13.00" rx="0.6" fill="url(#gl)" stroke="#0a1428" stroke-width="0.8"/>
<rect x="372.12" y="193.25" width="5.06" height="13.00" rx="0.6" fill="url(#gl)" stroke="#0a1428" stroke-width="0.8"/>
<rect x="383.25" y="193.25" width="5.28" height="13.00" rx="0.6" fill="url(#gl)" stroke="#0a1428" stroke-width="0.8"/>
<rect x="395.15" y="193.25" width="4.73" height="13.00" rx="0.6" fill="url(#gp)" stroke="#2a0a0a" stroke-width="0.8"/>
<rect x="407.05" y="193.25" width="4.08" height="13.00" rx="0.6" fill="url(#gp)" stroke="#2a0a0a" stroke-width="0.8"/>
<rect x="418.95" y="193.25" width="3.43" height="13.00" rx="0.6" fill="url(#gp)" stroke="#2a0a0a" stroke-width="0.8"/>
<rect x="430.85" y="193.25" width="2.78" height="13.00" rx="0.6" fill="url(#gp)" stroke="#2a0a0a" stroke-width="0.8"/>
<rect x="116.13" y="209.92" width="11.35" height="13.00" rx="0.6" fill="url(#gb)" stroke="#060e22" stroke-width="0.8"/>
<rect x="127.48" y="209.92" width="11.35" height="13.00" rx="0.6" fill="url(#gb)" stroke="#060e22" stroke-width="0.8"/>
<rect x="138.83" y="209.92" width="11.35" height="13.00" rx="0.6" fill="url(#gb)" stroke="#060e22" stroke-width="0.8"/>
<rect x="150.18" y="209.92" width="11.35" height="13.00" rx="0.6" fill="url(#gb)" stroke="#060e22" stroke-width="0.8"/>
<rect x="161.53" y="209.92" width="11.35" height="13.00" rx="0.6" fill="url(#gb)" stroke="#060e22" stroke-width="0.8"/>
<rect x="172.88" y="209.92" width="11.35" height="13.00" rx="0.6" fill="url(#gb)" stroke="#060e22" stroke-width="0.8"/>
<rect x="184.23" y="209.92" width="11.35" height="13.00" rx="0.6" fill="url(#gb)" stroke="#060e22" stroke-width="0.8"/>
<rect x="195.58" y="209.92" width="11.35" height="13.00" rx="0.6" fill="url(#gb)" stroke="#060e22" stroke-width="0.8"/>
<rect x="206.93" y="209.92" width="11.35" height="13.00" rx="0.6" fill="url(#gb)" stroke="#060e22" stroke-width="0.8"/>
<rect x="218.28" y="209.92" width="11.35" height="13.00" rx="0.6" fill="url(#gb)" stroke="#060e22" stroke-width="0.8"/>
<rect x="229.63" y="209.92" width="11.35" height="13.00" rx="0.6" fill="url(#gb)" stroke="#060e22" stroke-width="0.8"/>
<rect x="240.98" y="209.92" width="11.35" height="13.00" rx="0.6" fill="url(#gb)" stroke="#060e22" stroke-width="0.8"/>
<rect x="252.33" y="209.92" width="11.35" height="13.00" rx="0.6" fill="url(#gb)" stroke="#060e22" stroke-width="0.8"/>
<rect x="263.68" y="209.92" width="11.35" height="13.00" rx="0.6" fill="url(#gb)" stroke="#060e22" stroke-width="0.8"/>
<rect x="275.03" y="209.92" width="11.35" height="13.00" rx="0.6" fill="url(#gb)" stroke="#060e22" stroke-width="0.8"/>
<rect x="286.38" y="209.92" width="11.35" height="13.00" rx="0.6" fill="url(#gb)" stroke="#060e22" stroke-width="0.8"/>
<rect x="297.73" y="209.92" width="11.35" height="13.00" rx="0.6" fill="url(#gb)" stroke="#060e22" stroke-width="0.8"/>
<rect x="309.08" y="209.92" width="11.35" height="13.00" rx="0.6" fill="url(#gb)" stroke="#060e22" stroke-width="0.8"/>
<rect x="320.43" y="209.92" width="11.35" height="13.00" rx="0.6" fill="url(#gb)" stroke="#060e22" stroke-width="0.8"/>
<rect x="331.78" y="209.92" width="11.35" height="13.00" rx="0.6" fill="url(#gb)" stroke="#060e22" stroke-width="0.8"/>
<rect x="343.13" y="209.92" width="11.35" height="13.00" rx="0.6" fill="url(#gb)" stroke="#060e22" stroke-width="0.8"/>
<rect x="354.48" y="209.92" width="11.35" height="13.00" rx="0.6" fill="url(#gb)" stroke="#060e22" stroke-width="0.8"/>
<rect x="365.83" y="209.92" width="11.35" height="13.00" rx="0.6" fill="url(#gb)" stroke="#060e22" stroke-width="0.8"/>
<rect x="377.18" y="209.92" width="11.35" height="13.00" rx="0.6" fill="url(#gb)" stroke="#060e22" stroke-width="0.8"/>
<rect x="388.53" y="209.92" width="11.35" height="13.00" rx="0.6" fill="url(#gb)" stroke="#060e22" stroke-width="0.8"/>
<rect x="399.88" y="209.92" width="11.25" height="13.00" rx="0.6" fill="url(#gr)" stroke="#200606" stroke-width="0.8"/>
<rect x="411.13" y="209.92" width="11.25" height="13.00" rx="0.6" fill="url(#gr)" stroke="#200606" stroke-width="0.8"/>
<rect x="422.38" y="209.92" width="11.25" height="13.00" rx="0.6" fill="url(#gr)" stroke="#200606" stroke-width="0.8"/>
<rect x="433.63" y="209.92" width="11.25" height="13.00" rx="0.6" fill="url(#gr)" stroke="#200606" stroke-width="0.8"/>
<rect x="444.94" y="209.92" width="11.25" height="13.00" rx="0.6" fill="url(#gr)" stroke="#200606" stroke-width="0.8"/>
<rect x="127.48" y="226.58" width="9.90" height="13.00" rx="0.6" fill="url(#gl)" stroke="#0a1428" stroke-width="0.8"/>
<rect x="138.83" y="226.58" width="9.50" height="13.00" rx="0.6" fill="url(#gl)" stroke="#0a1428" stroke-width="0.8"/>
<rect x="150.18" y="226.58" width="9.10" height="13.00" rx="0.6" fill="url(#gl)" stroke="#0a1428" stroke-width="0.8"/>
<rect x="161.53" y="226.58" width="8.70" height="13.00" rx="0.6" fill="url(#gl)" stroke="#0a1428" stroke-width="0.8"/>
<rect x="172.88" y="226.58" width="8.30" height="13.00" rx="0.6" fill="url(#gl)" stroke="#0a1428" stroke-width="0.8"/>
<rect x="184.23" y="226.58" width="7.90" height="13.00" rx="0.6" fill="url(#gl)" stroke="#0a1428" stroke-width="0.8"/>
<rect x="195.58" y="226.58" width="7.50" height="13.00" rx="0.6" fill="url(#gl)" stroke="#0a1428" stroke-width="0.8"/>
<rect x="206.93" y="226.58" width="7.10" height="13.00" rx="0.6" fill="url(#gl)" stroke="#0a1428" stroke-width="0.8"/>
<rect x="218.28" y="226.58" width="6.70" height="13.00" rx="0.6" fill="url(#gl)" stroke="#0a1428" stroke-width="0.8"/>
<rect x="229.63" y="226.58" width="6.30" height="13.00" rx="0.6" fill="url(#gl)" stroke="#0a1428" stroke-width="0.8"/>
<rect x="240.98" y="226.58" width="5.90" height="13.00" rx="0.6" fill="url(#gl)" stroke="#0a1428" stroke-width="0.8"/>
<rect x="252.33" y="226.58" width="5.50" height="13.00" rx="0.6" fill="url(#gl)" stroke="#0a1428" stroke-width="0.8"/>
<rect x="263.68" y="226.58" width="5.10" height="13.00" rx="0.6" fill="url(#gl)" stroke="#0a1428" stroke-width="0.8"/>
<rect x="275.03" y="226.58" width="4.70" height="13.00" rx="0.6" fill="url(#gl)" stroke="#0a1428" stroke-width="0.8"/>
<rect x="286.38" y="226.58" width="4.30" height="13.00" rx="0.6" fill="url(#gl)" stroke="#0a1428" stroke-width="0.8"/>
<rect x="297.73" y="226.58" width="3.90" height="13.00" rx="0.6" fill="url(#gl)" stroke="#0a1428" stroke-width="0.8"/>
<rect x="309.08" y="226.58" width="3.50" height="13.00" rx="0.6" fill="url(#gl)" stroke="#0a1428" stroke-width="0.8"/>
<rect x="320.43" y="226.58" width="3.10" height="13.00" rx="0.6" fill="url(#gl)" stroke="#0a1428" stroke-width="0.8"/>
<rect x="331.78" y="226.58" width="2.70" height="13.00" rx="0.6" fill="url(#gl)" stroke="#0a1428" stroke-width="0.8"/>
<rect x="343.13" y="226.58" width="2.30" height="13.00" rx="0.6" fill="url(#gl)" stroke="#0a1428" stroke-width="0.8"/>
<rect x="354.48" y="226.58" width="1.90" height="13.00" rx="0.6" fill="url(#gl)" stroke="#0a1428" stroke-width="0.8"/>
<rect x="365.83" y="226.58" width="1.50" height="13.00" rx="0.6" fill="url(#gl)" stroke="#0a1428" stroke-width="0.8"/>
<line x1="377.73" y1="226.18" x2="377.73" y2="239.98" stroke="#0a1428" stroke-width="2.00"/>
<line x1="388.88" y1="226.18" x2="388.88" y2="239.98" stroke="#0a1428" stroke-width="1.60"/>
<line x1="400.03" y1="226.18" x2="400.03" y2="239.98" stroke="#0a1428" stroke-width="1.20"/>
<rect x="422.38" y="226.58" width="2.00" height="13.00" rx="0.6" fill="url(#gp)" stroke="#2a0a0a" stroke-width="0.8"/>
<rect x="433.63" y="226.58" width="4.00" height="13.00" rx="0.6" fill="url(#gp)" stroke="#2a0a0a" stroke-width="0.8"/>
<rect x="444.88" y="226.58" width="6.00" height="13.00" rx="0.6" fill="url(#gp)" stroke="#2a0a0a" stroke-width="0.8"/>
<rect x="456.19" y="226.58" width="7.94" height="13.00" rx="0.6" fill="url(#gp)" stroke="#2a0a0a" stroke-width="0.8"/>
<rect x="137.38" y="243.25" width="10.95" height="13.00" rx="0.6" fill="url(#gb)" stroke="#060e22" stroke-width="0.8"/>
<rect x="148.33" y="243.25" width="10.95" height="13.00" rx="0.6" fill="url(#gb)" stroke="#060e22" stroke-width="0.8"/>
<rect x="159.28" y="243.25" width="10.95" height="13.00" rx="0.6" fill="url(#gb)" stroke="#060e22" stroke-width="0.8"/>
<rect x="170.23" y="243.25" width="10.95" height="13.00" rx="0.6" fill="url(#gb)" stroke="#060e22" stroke-width="0.8"/>
<rect x="181.18" y="243.25" width="10.95" height="13.00" rx="0.6" fill="url(#gb)" stroke="#060e22" stroke-width="0.8"/>
<rect x="192.13" y="243.25" width="10.95" height="13.00" rx="0.6" fill="url(#gb)" stroke="#060e22" stroke-width="0.8"/>
<rect x="203.08" y="243.25" width="10.95" height="13.00" rx="0.6" fill="url(#gb)" stroke="#060e22" stroke-width="0.8"/>
<rect x="214.03" y="243.25" width="10.95" height="13.00" rx="0.6" fill="url(#gb)" stroke="#060e22" stroke-width="0.8"/>
<rect x="224.98" y="243.25" width="10.95" height="13.00" rx="0.6" fill="url(#gb)" stroke="#060e22" stroke-width="0.8"/>
<rect x="235.93" y="243.25" width="10.95" height="13.00" rx="0.6" fill="url(#gb)" stroke="#060e22" stroke-width="0.8"/>
<rect x="246.88" y="243.25" width="10.95" height="13.00" rx="0.6" fill="url(#gb)" stroke="#060e22" stroke-width="0.8"/>
<rect x="257.83" y="243.25" width="10.95" height="13.00" rx="0.6" fill="url(#gb)" stroke="#060e22" stroke-width="0.8"/>
<rect x="268.78" y="243.25" width="10.95" height="13.00" rx="0.6" fill="url(#gb)" stroke="#060e22" stroke-width="0.8"/>
<rect x="279.73" y="243.25" width="10.95" height="13.00" rx="0.6" fill="url(#gb)" stroke="#060e22" stroke-width="0.8"/>
<rect x="290.68" y="243.25" width="10.95" height="13.00" rx="0.6" fill="url(#gb)" stroke="#060e22" stroke-width="0.8"/>
<rect x="301.63" y="243.25" width="10.95" height="13.00" rx="0.6" fill="url(#gb)" stroke="#060e22" stroke-width="0.8"/>
<rect x="312.58" y="243.25" width="10.95" height="13.00" rx="0.6" fill="url(#gb)" stroke="#060e22" stroke-width="0.8"/>
<rect x="323.53" y="243.25" width="10.95" height="13.00" rx="0.6" fill="url(#gb)" stroke="#060e22" stroke-width="0.8"/>
<rect x="334.48" y="243.25" width="10.95" height="13.00" rx="0.6" fill="url(#gb)" stroke="#060e22" stroke-width="0.8"/>
<rect x="345.43" y="243.25" width="10.95" height="13.00" rx="0.6" fill="url(#gb)" stroke="#060e22" stroke-width="0.8"/>
<rect x="356.38" y="243.25" width="10.95" height="13.00" rx="0.6" fill="url(#gb)" stroke="#060e22" stroke-width="0.8"/>
<rect x="367.33" y="243.25" width="10.95" height="13.00" rx="0.6" fill="url(#gb)" stroke="#060e22" stroke-width="0.8"/>
<rect x="378.28" y="243.25" width="10.95" height="13.00" rx="0.6" fill="url(#gb)" stroke="#060e22" stroke-width="0.8"/>
<rect x="389.23" y="243.25" width="10.95" height="13.00" rx="0.6" fill="url(#gb)" stroke="#060e22" stroke-width="0.8"/>
<rect x="400.18" y="243.25" width="10.95" height="13.00" rx="0.6" fill="url(#gb)" stroke="#060e22" stroke-width="0.8"/>
<rect x="411.13" y="243.25" width="13.25" height="13.00" rx="0.6" fill="url(#gr)" stroke="#200606" stroke-width="0.8"/>
<rect x="424.38" y="243.25" width="13.25" height="13.00" rx="0.6" fill="url(#gr)" stroke="#200606" stroke-width="0.8"/>
<rect x="437.63" y="243.25" width="13.25" height="13.00" rx="0.6" fill="url(#gr)" stroke="#200606" stroke-width="0.8"/>
<rect x="450.88" y="243.25" width="13.25" height="13.00" rx="0.6" fill="url(#gr)" stroke="#200606" stroke-width="0.8"/>
<rect x="464.13" y="243.25" width="13.25" height="13.00" rx="0.6" fill="url(#gr)" stroke="#200606" stroke-width="0.8"/>
<text transform="translate(0.19,52.50) scale(1.0242,1)" font-size="11.0">Station 1</text>
<text transform="translate(4.79,69.17) scale(1.0414,1)" font-size="11.0">Buffer 1</text>
<text transform="translate(0.19,85.83) scale(1.0242,1)" font-size="11.0">Station 2</text>
<text transform="translate(4.79,102.50) scale(1.0414,1)" font-size="11.0">Buffer 2</text>
<text transform="translate(0.06,119.17) scale(1.0242,1)" font-size="11.0">Station 3</text>
<text transform="translate(4.66,135.83) scale(1.0414,1)" font-size="11.0">Buffer 3</text>
<text transform="translate(-0.07,152.50) scale(1.0242,1)" font-size="11.0">Station 4</text>
<text transform="translate(4.53,169.17) scale(1.0414,1)" font-size="11.0">Buffer 4</text>
<text transform="translate(0.06,185.83) scale(1.0242,1)" font-size="11.0">Station 5</text>
<text transform="translate(4.66,202.50) scale(1.0414,1)" font-size="11.0">Buffer 5</text>
<text transform="translate(0.06,219.17) scale(1.0242,1)" font-size="11.0">Station 6</text>
<text transform="translate(4.66,235.83) scale(1.0414,1)" font-size="11.0">Buffer 6</text>
<text transform="translate(0.19,252.50) scale(1.0242,1)" font-size="11.0">Station 7</text>
<text transform="translate(46.57,32.45) scale(1.1429,1)" font-size="11.0">0</text>
<text transform="translate(122.80,32.45) scale(1.0530,1)" font-size="11.0">1000</text>
<text transform="translate(206.61,32.45) scale(1.0362,1)" font-size="11.0">2000</text>
<text transform="translate(290.41,32.45) scale(1.0362,1)" font-size="11.0">3000</text>
<text transform="translate(374.27,32.45) scale(1.0253,1)" font-size="11.0">4000</text>
<text transform="translate(457.61,32.45) scale(1.0362,1)" font-size="11.0">5000</text>
<text transform="translate(541.21,32.45) scale(1.0362,1)" font-size="11.0">6000</text>
<text transform="translate(160.74,13.00) scale(1.0162,1)" font-size="12.8" font-weight="bold">Optimal</text>
<text transform="translate(212.55,13.00) scale(0.9080,1)" font-size="12.8" font-weight="bold" letter-spacing="-0.5">Cyclical</text>
<text transform="translate(255.87,13.00) scale(1.0111,1)" font-size="12.8" font-weight="bold">Schedule</text>
<text transform="translate(320.11,13.00) scale(1.0303,1)" font-size="12.8" font-weight="bold">(25-5</text>
<text transform="translate(354.64,13.00) scale(0.9608,1)" font-size="12.8" font-weight="bold">Sequence)</text>
<text transform="translate(497.57,63.50) scale(1.0607,1)" font-size="11.4">Model 1</text>
<text transform="translate(497.57,80.10) scale(1.0607,1)" font-size="11.4">Model 2</text>
<rect x="487.3" y="56.1" width="6.8" height="6.9" fill="#5590dc" stroke="#0d1a36" stroke-width="1"/>
<rect x="487.3" y="72.8" width="6.8" height="6.9" fill="#a83a39" stroke="#3a0e0e" stroke-width="1"/>
</svg></body></html>
